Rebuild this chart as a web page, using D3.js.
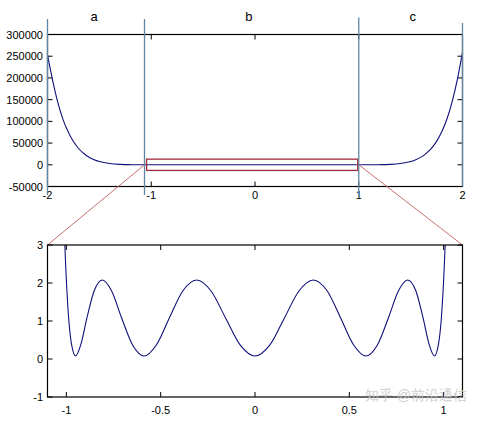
<!DOCTYPE html>
<html>
<head>
<meta charset="utf-8">
<script src="https://cdn.jsdelivr.net/npm/d3@7"></script>
<style>
  body { margin: 0; background: #fff; }
  svg { display: block; }
  text { font-family: "Liberation Sans", Arial, sans-serif; }
</style>
</head>
<body>
<div id="chart"></div>
<script>
// top panel: whole curve on [-2, 2]
var topX = [-2, -1.95, -1.9, -1.85, -1.8, -1.75, -1.7, -1.65, -1.6, -1.55, -1.5, -1.4, -1.3, -1.2, -1.1, -1,
            0, 1, 1.1, 1.2, 1.3, 1.4, 1.5, 1.55, 1.6, 1.65, 1.7, 1.75, 1.8, 1.85, 1.9, 1.95, 2];
var topY = [253000, 194000, 143000, 104000, 75500, 53500, 37500, 26000, 17500, 11600, 7500, 2900, 960, 250, 40, 2,
            0, 2, 40, 250, 960, 2900, 7500, 11700, 17600, 26100, 37800, 54000, 76000, 105500, 145000, 196000, 259000];
var topYTicks = [-50000, 0, 50000, 100000, 150000, 200000, 250000, 300000];
var topXTicks = [-2, -1, 0, 1, 2];
var regionX = [-2, -1.065, 1, 2];          // separating lines
var regionNames = ["a", "b", "c"];
var regionLabelX = [-1.55, -0.06, 1.52];
var boxX = [-1.045, 0.99], boxY = [-13000, 13000];

// bottom panel: zoom of the middle part
var botX = [-1.01, -1.005, -1, -0.997, -0.988, -0.972, -0.951, -0.924, -0.891, -0.853, -0.809, -0.76, -0.707,
            -0.649, -0.588, -0.523, -0.454, -0.383, -0.309, -0.233, -0.156, -0.079, 0,
            0.079, 0.156, 0.233, 0.309, 0.383, 0.454, 0.523, 0.588, 0.649, 0.707, 0.76, 0.809,
            0.853, 0.891, 0.924, 0.951, 0.972, 0.988, 0.997, 1, 1.005, 1.01];
var botY = [3.25, 2.62, 2.08, 1.79, 1.08, 0.37, 0.08, 0.37, 1.08, 1.79, 2.08, 1.79, 1.08,
            0.37, 0.08, 0.37, 1.08, 1.79, 2.08, 1.79, 1.08, 0.37, 0.08,
            0.37, 1.08, 1.79, 2.08, 1.79, 1.08, 0.37, 0.08, 0.37, 1.08, 1.79, 2.08,
            1.79, 1.08, 0.37, 0.08, 0.37, 1.08, 1.79, 2.08, 2.62, 3.25];
var botYTicks = [-1, 0, 1, 2, 3];
var botXTicks = [-1, -0.5, 0, 0.5, 1];

var W = 480, H = 421;
var left = 47.5, right = 462.5;
var top1 = 34.5, bot1 = 186.5;
var top2 = 245, bot2 = 397;
var curveColor = "#10107a", lineColor = "#5f86a3";

var svg = d3.select("#chart").append("svg")
    .attr("width", W).attr("height", H);

var x1 = d3.scaleLinear().domain([-2, 2]).range([left, right]);
var y1 = d3.scaleLinear().domain([-50000, 300000]).range([bot1, top1]);
var x2 = d3.scaleLinear().domain([-1.1, 1.1]).range([left, right]);
var y2 = d3.scaleLinear().domain([-1, 3]).range([bot2, top2]);

function frame(g, xs, ys, xt, yt, x0, x1_, y0, y1_) {
    // ticks pointing inward on all four sides
    var len = 5;
    xt.forEach(function(t) {
        g.append("line").attr("x1", xs(t)).attr("x2", xs(t)).attr("y1", y0).attr("y2", y0 + len);
        g.append("line").attr("x1", xs(t)).attr("x2", xs(t)).attr("y1", y1_).attr("y2", y1_ - len);
    });
    yt.forEach(function(t) {
        g.append("line").attr("x1", x0).attr("x2", x0 + len).attr("y1", ys(t)).attr("y2", ys(t));
        g.append("line").attr("x1", x1_).attr("x2", x1_ - len).attr("y1", ys(t)).attr("y2", ys(t));
    });
    g.selectAll("line").attr("stroke", "#000").attr("stroke-width", 1);
    g.append("rect").attr("x", x0).attr("y", y0)
        .attr("width", x1_ - x0).attr("height", y1_ - y0)
        .attr("fill", "none").attr("stroke", "#000").attr("stroke-width", 1.2);
}

// ---- top panel
var g1 = svg.append("g");
frame(g1, x1, y1, topXTicks, topYTicks, left, right, top1, bot1);

g1.selectAll("text.ylab").data(topYTicks).enter().append("text")
    .attr("class", "ylab")
    .attr("x", 43).attr("y", function(d) { return y1(d) + 4; })
    .attr("text-anchor", "end").attr("font-size", "11px")
    .text(function(d) { return d; });

g1.selectAll("text.xlab").data(topXTicks).enter().append("text")
    .attr("class", "xlab")
    .attr("x", function(d) { return x1(d); }).attr("y", 199)
    .attr("text-anchor", "middle").attr("font-size", "11px")
    .text(function(d) { return d; });

var topPts = topX.map(function(d, i) { return [d, topY[i]]; });
g1.append("path")
    .datum(topPts)
    .attr("fill", "none").attr("stroke", curveColor).attr("stroke-width", 1.1)
    .attr("d", d3.line().x(function(d) { return x1(d[0]); }).y(function(d) { return y1(d[1]); })
        .curve(d3.curveMonotoneX));

// zoom box
g1.append("rect")
    .attr("x", x1(boxX[0])).attr("y", y1(boxY[1]))
    .attr("width", x1(boxX[1]) - x1(boxX[0])).attr("height", y1(boxY[0]) - y1(boxY[1]))
    .attr("fill", "none").attr("stroke", "#a32a3e").attr("stroke-width", 1.3);

// region separators
var lineTops = [19, 19, 17.5, 23];
g1.selectAll("line.sep").data(regionX).enter().append("line")
    .attr("class", "sep")
    .attr("x1", function(d) { return x1(d); }).attr("x2", function(d) { return x1(d); })
    .attr("y1", function(d, i) { return lineTops[i]; })
    .attr("y2", function(d, i) { return i == 3 ? bot1 : 195; })
    .attr("stroke", lineColor).attr("stroke-width", 1.3);

g1.selectAll("text.region").data(regionNames).enter().append("text")
    .attr("class", "region")
    .attr("x", function(d, i) { return x1(regionLabelX[i]); }).attr("y", 21)
    .attr("text-anchor", "middle").attr("font-size", "13px")
    .text(function(d) { return d; });

// connector lines to the zoomed panel
svg.append("line")
    .attr("x1", x1(regionX[1])).attr("y1", y1(0)).attr("x2", left).attr("y2", top2)
    .attr("stroke", "#c8706e").attr("stroke-width", 1);
svg.append("line")
    .attr("x1", x1(regionX[2])).attr("y1", y1(0)).attr("x2", right).attr("y2", top2)
    .attr("stroke", "#c8706e").attr("stroke-width", 1);

// ---- bottom panel
var g2 = svg.append("g");
g2.append("clipPath").attr("id", "clip2").append("rect")
    .attr("x", left).attr("y", top2).attr("width", right - left).attr("height", bot2 - top2);

var botPts = botX.map(function(d, i) { return [d, botY[i]]; });
g2.append("path")
    .datum(botPts)
    .attr("clip-path", "url(#clip2)")
    .attr("fill", "none").attr("stroke", curveColor).attr("stroke-width", 1.1)
    .attr("d", d3.line().x(function(d) { return x2(d[0]); }).y(function(d) { return y2(d[1]); })
        .curve(d3.curveMonotoneX));

var g2f = g2.append("g");
frame(g2f, x2, y2, botXTicks, botYTicks, left, right, top2, bot2);

g2.selectAll("text.ylab").data(botYTicks).enter().append("text")
    .attr("class", "ylab")
    .attr("x", 43).attr("y", function(d) { return y2(d) + 4; })
    .attr("text-anchor", "end").attr("font-size", "11px")
    .text(function(d) { return d; });

g2.selectAll("text.xlab").data(botXTicks).enter().append("text")
    .attr("class", "xlab")
    .attr("x", function(d) { return x2(d); }).attr("y", 414)
    .attr("text-anchor", "middle").attr("font-size", "11px")
    .text(function(d) { return d; });

// watermark
svg.append("text")
    .attr("x", 467).attr("y", 400)
    .attr("text-anchor", "end")
    .attr("font-family", "'Noto Sans CJK SC', sans-serif")
    .attr("font-size", "14px")
    .attr("fill", "#c4c4c4").attr("fill-opacity", 0.85)
    .text("知乎 @前沿通信");
</script>
</body>
</html>
